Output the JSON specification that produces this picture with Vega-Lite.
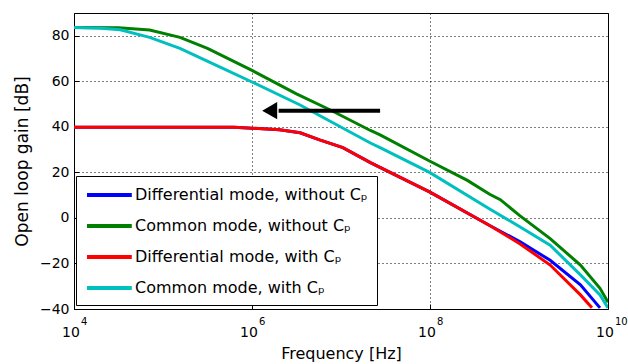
{
  "$schema": "https://vega.github.io/schema/vega-lite/v6.json",
  "width": 534,
  "height": 296,
  "autosize": {"type": "none"},
  "padding": {"left": 74, "top": 13, "right": 20, "bottom": 55},
  "background": "white",
  "config": {
    "view": {"stroke": "black", "strokeWidth": 1},
    "font": "DejaVu Sans",
    "axis": {"labelFont": "DejaVu Sans", "titleFont": "DejaVu Sans", "labelColor": "black", "titleColor": "black", "titleFontWeight": "normal"}
  },
  "data": {"values": [
    {"f": 10000, "gain": 39.8, "series": "Differential mode, without Cₚ"},
    {"f": 630000, "gain": 39.8, "series": "Differential mode, without Cₚ"},
    {"f": 1000000, "gain": 39.4, "series": "Differential mode, without Cₚ"},
    {"f": 2040000, "gain": 38.7, "series": "Differential mode, without Cₚ"},
    {"f": 3470000, "gain": 37.4, "series": "Differential mode, without Cₚ"},
    {"f": 5750000, "gain": 34.3, "series": "Differential mode, without Cₚ"},
    {"f": 10500000, "gain": 30.9, "series": "Differential mode, without Cₚ"},
    {"f": 21400000, "gain": 24.3, "series": "Differential mode, without Cₚ"},
    {"f": 100000000, "gain": 11.3, "series": "Differential mode, without Cₚ"},
    {"f": 468000000, "gain": -3.3, "series": "Differential mode, without Cₚ"},
    {"f": 1020000000, "gain": -10.4, "series": "Differential mode, without Cₚ"},
    {"f": 2240000000, "gain": -18.6, "series": "Differential mode, without Cₚ"},
    {"f": 4900000000, "gain": -29.4, "series": "Differential mode, without Cₚ"},
    {"f": 8130000000, "gain": -39.5, "series": "Differential mode, without Cₚ"},

    {"f": 10000, "gain": 83.6, "series": "Common mode, without Cₚ"},
    {"f": 31600, "gain": 83.5, "series": "Common mode, without Cₚ"},
    {"f": 70800, "gain": 82.5, "series": "Common mode, without Cₚ"},
    {"f": 155000, "gain": 79.3, "series": "Common mode, without Cₚ"},
    {"f": 316000, "gain": 74.5, "series": "Common mode, without Cₚ"},
    {"f": 1000000, "gain": 64.8, "series": "Common mode, without Cₚ"},
    {"f": 3160000, "gain": 54.5, "series": "Common mode, without Cₚ"},
    {"f": 7590000, "gain": 47.4, "series": "Common mode, without Cₚ"},
    {"f": 21400000, "gain": 38.4, "series": "Common mode, without Cₚ"},
    {"f": 27500000, "gain": 36.5, "series": "Common mode, without Cₚ"},
    {"f": 100000000, "gain": 24.9, "series": "Common mode, without Cₚ"},
    {"f": 263000000, "gain": 16.5, "series": "Common mode, without Cₚ"},
    {"f": 468000000, "gain": 10.4, "series": "Common mode, without Cₚ"},
    {"f": 617000000, "gain": 8.0, "series": "Common mode, without Cₚ"},
    {"f": 1020000000, "gain": 1.0, "series": "Common mode, without Cₚ"},
    {"f": 2240000000, "gain": -9.1, "series": "Common mode, without Cₚ"},
    {"f": 4900000000, "gain": -20.7, "series": "Common mode, without Cₚ"},
    {"f": 8130000000, "gain": -30.9, "series": "Common mode, without Cₚ"},
    {"f": 10000000000, "gain": -37.0, "series": "Common mode, without Cₚ"},

    {"f": 10000, "gain": 39.8, "series": "Differential mode, with Cₚ"},
    {"f": 630000, "gain": 39.8, "series": "Differential mode, with Cₚ"},
    {"f": 1000000, "gain": 39.4, "series": "Differential mode, with Cₚ"},
    {"f": 2040000, "gain": 38.7, "series": "Differential mode, with Cₚ"},
    {"f": 3470000, "gain": 37.4, "series": "Differential mode, with Cₚ"},
    {"f": 5750000, "gain": 34.3, "series": "Differential mode, with Cₚ"},
    {"f": 10500000, "gain": 30.9, "series": "Differential mode, with Cₚ"},
    {"f": 21400000, "gain": 24.3, "series": "Differential mode, with Cₚ"},
    {"f": 100000000, "gain": 11.3, "series": "Differential mode, with Cₚ"},
    {"f": 468000000, "gain": -3.3, "series": "Differential mode, with Cₚ"},
    {"f": 1020000000, "gain": -11.3, "series": "Differential mode, with Cₚ"},
    {"f": 2240000000, "gain": -20.7, "series": "Differential mode, with Cₚ"},
    {"f": 4900000000, "gain": -33.8, "series": "Differential mode, with Cₚ"},
    {"f": 6600000000, "gain": -39.5, "series": "Differential mode, with Cₚ"},

    {"f": 10000, "gain": 83.6, "series": "Common mode, with Cₚ"},
    {"f": 20000, "gain": 83.3, "series": "Common mode, with Cₚ"},
    {"f": 33100, "gain": 82.6, "series": "Common mode, with Cₚ"},
    {"f": 70800, "gain": 79.3, "series": "Common mode, with Cₚ"},
    {"f": 155000, "gain": 74.5, "series": "Common mode, with Cₚ"},
    {"f": 398000, "gain": 67.0, "series": "Common mode, with Cₚ"},
    {"f": 1000000, "gain": 59.7, "series": "Common mode, with Cₚ"},
    {"f": 3470000, "gain": 49.6, "series": "Common mode, with Cₚ"},
    {"f": 21400000, "gain": 32.9, "series": "Common mode, with Cₚ"},
    {"f": 27500000, "gain": 30.9, "series": "Common mode, with Cₚ"},
    {"f": 100000000, "gain": 19.9, "series": "Common mode, with Cₚ"},
    {"f": 468000000, "gain": 3.9, "series": "Common mode, with Cₚ"},
    {"f": 1020000000, "gain": -3.9, "series": "Common mode, with Cₚ"},
    {"f": 2240000000, "gain": -12.0, "series": "Common mode, with Cₚ"},
    {"f": 4900000000, "gain": -25.0, "series": "Common mode, with Cₚ"},
    {"f": 8130000000, "gain": -33.8, "series": "Common mode, with Cₚ"},
    {"f": 10000000000, "gain": -39.5, "series": "Common mode, with Cₚ"}
  ]},
  "layer": [
    {
      "mark": {"type": "line", "strokeWidth": 3, "clip": true},
      "encoding": {
        "x": {"field": "f", "type": "quantitative",
          "scale": {"type": "log", "domain": [10000, 10000000000], "nice": false},
          "axis": {"values": [10000, 1000000, 100000000, 10000000000],
            "labels": false,
            "title": "Frequency [Hz]", "titleFontSize": 16, "titlePadding": 36,
            "tickSize": -5, "tickColor": "black",
            "domain": false, "grid": true, "gridColor": "black", "gridDash": [1, 3], "gridOpacity": 1, "gridWidth": 1}},
        "y": {"field": "gain", "type": "quantitative",
          "scale": {"domain": [-40, 90], "nice": false},
          "axis": {"values": [-40, -20, 0, 20, 40, 60, 80],
            "title": "Open loop gain [dB]", "titleFontSize": 17, "titlePadding": 8,
            "labelFontSize": 14, "labelPadding": 10, "tickSize": -5, "tickColor": "black",
            "domain": false, "grid": true, "gridColor": "black", "gridDash": [1, 3], "gridOpacity": 1, "gridWidth": 1}},
        "color": {"field": "series", "type": "nominal",
          "scale": {"domain": ["Differential mode, without Cₚ", "Common mode, without Cₚ", "Differential mode, with Cₚ", "Common mode, with Cₚ"],
            "range": ["#0000FF", "#008000", "#FF0000", "#00BFBF"]},
          "legend": {"orient": "none", "legendX": 2, "legendY": 163, "title": null,
            "symbolType": "M-1,0L4.6,0", "symbolSize": 256, "symbolStrokeWidth": 4,
            "labelFontSize": 16, "labelFont": "DejaVu Sans", "labelColor": "black", "labelOffset": 30, "labelLimit": 400,
            "strokeColor": "black", "fillColor": "white", "padding": 9, "rowPadding": 13}},
        "order": {"value": 0}
      }
    },
    {
      "data": {"values": [{"f1": 1990000, "f2": 27500000, "y": 47.1}]},
      "mark": {"type": "rule", "strokeWidth": 4, "color": "black"},
      "encoding": {
        "x": {"field": "f1", "type": "quantitative"},
        "x2": {"field": "f2"},
        "y": {"field": "y", "type": "quantitative"}
      }
    },
    {
      "data": {"values": [{"f": 1580000, "y": 47.1}]},
      "mark": {"type": "point", "shape": "triangle-left", "filled": true, "color": "black", "size": 300, "opacity": 1},
      "encoding": {
        "x": {"field": "f", "type": "quantitative"},
        "y": {"field": "y", "type": "quantitative"}
      }
    },
    {
      "data": {"values": [{"f": 10000, "base": "10"}, {"f": 1000000, "base": "10"}, {"f": 100000000, "base": "10"}, {"f": 10000000000, "base": "10"}]},
      "mark": {"type": "text", "fontSize": 14, "font": "DejaVu Sans", "color": "black", "align": "center", "baseline": "top", "dx": -3, "dy": 17, "clip": false},
      "encoding": {
        "x": {"field": "f", "type": "quantitative"},
        "y": {"datum": -40, "type": "quantitative"},
        "text": {"field": "base"}
      }
    },
    {
      "data": {"values": [{"f": 10000, "exp": "4"}, {"f": 1000000, "exp": "6"}, {"f": 100000000, "exp": "8"}, {"f": 10000000000, "exp": "10"}]},
      "mark": {"type": "text", "fontSize": 10, "font": "DejaVu Sans", "color": "black", "align": "left", "baseline": "alphabetic", "dx": 7, "dy": 16, "clip": false},
      "encoding": {
        "x": {"field": "f", "type": "quantitative"},
        "y": {"datum": -40, "type": "quantitative"},
        "text": {"field": "exp"}
      }
    }
  ]
}
